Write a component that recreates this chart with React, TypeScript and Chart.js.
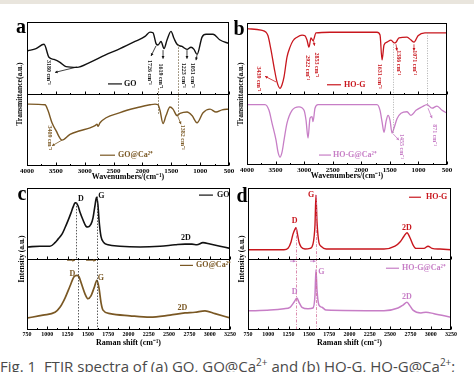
import React, { useEffect, useRef } from 'react';
import { Chart, registerables } from 'chart.js';
Chart.register(...registerables);

// ---------- FTIR data (wavenumber, cm-1 ; transmittance a.u.) ----------
const goWave = [3983, 3844, 3705, 3619, 3532, 3428, 3324, 3134, 2908, 2648, 2388, 2128, 1955, 1869, 1817, 1764, 1730, 1678, 1626, 1574, 1505, 1452, 1400, 1314, 1227, 1158, 1106, 1054, 967, 898, 777, 655, 500];
const goTrans = [60, 63, 69, 51, 48, 44, 38, 37, 44, 54, 63, 73, 80, 86, 85, 70, 68, 73, 63, 75, 87, 77, 69, 66, 62, 65, 62, 55, 79, 83, 83, 75, 70];

const goCaWave = [3983, 3688, 3636, 3567, 3497, 3393, 3255, 3082, 2908, 2821, 2786, 2769, 2735, 2388, 2042, 1869, 1782, 1730, 1695, 1643, 1591, 1522, 1470, 1400, 1348, 1227, 1141, 1054, 950, 829, 725, 620, 500];
const goCaTrans = [86, 85, 77, 60, 49, 36, 44, 49, 53, 56, 58, 55, 60, 74, 82, 85, 86, 85, 77, 59, 70, 82, 79, 70, 73, 75, 70, 60, 74, 79, 75, 78, 79];

const hogWave = [4000, 3755, 3667, 3632, 3580, 3527, 3475, 3422, 3387, 3352, 3300, 3247, 3195, 3125, 3037, 2985, 2950, 2915, 2880, 2845, 2792, 2547, 1725, 1672, 1637, 1602, 1550, 1480, 1427, 1392, 1340, 1200, 1130, 1077, 1007, 885, 500];
const hogTrans = [92, 90, 87, 82, 62, 38, 17, 8, 13, 24, 52, 66, 75, 80, 83, 82, 76, 66, 79, 75, 86, 87, 87, 83, 48, 69, 73, 76, 72, 73, 79, 80, 76, 73, 82, 86, 86];

const hogCaWave = [4000, 3685, 3615, 3562, 3492, 3457, 3422, 3387, 3352, 3300, 3212, 3090, 3002, 2967, 2932, 2897, 2862, 2845, 2810, 2757, 1725, 1672, 1637, 1602, 1567, 1532, 1497, 1462, 1427, 1375, 1305, 1200, 1130, 1042, 937, 850, 762, 675, 587, 500];
const hogCaTrans = [85, 85, 77, 59, 35, 18, 11, 18, 35, 59, 77, 82, 77, 63, 38, 66, 68, 61, 80, 85, 85, 77, 61, 46, 61, 70, 63, 45, 52, 65, 73, 75, 70, 77, 82, 85, 80, 83, 77, 73];

// ---------- Raman data (Raman shift, cm-1 ; intensity a.u.) ----------
const ramanGoShift = [762, 910, 1033, 1095, 1132, 1181, 1218, 1255, 1292, 1317, 1342, 1353, 1378, 1403, 1440, 1477, 1501, 1538, 1563, 1587, 1606, 1624, 1637, 1661, 1698, 1748, 1895, 2142, 2388, 2573, 2696, 2782, 2843, 2917, 3004, 3127, 3250];
const ramanGoInt = [17, 18, 18, 23, 28, 35, 44, 54, 65, 73, 79, 79, 75, 66, 55, 46, 45, 49, 58, 75, 87, 76, 55, 32, 23, 20, 18, 17, 18, 20, 21, 21, 20, 23, 21, 18, 15];

const ramanGoCaShift = [762, 947, 1095, 1156, 1218, 1280, 1329, 1366, 1390, 1427, 1464, 1501, 1538, 1575, 1612, 1637, 1661, 1686, 1772, 2018, 2265, 2511, 2696, 2819, 2942, 3065, 3250];
const ramanGoCaInt = [17, 21, 25, 32, 45, 62, 75, 77, 75, 63, 51, 44, 48, 59, 70, 59, 39, 28, 23, 20, 18, 21, 24, 25, 27, 23, 17];

const ramanHogShift = [750, 1021, 1193, 1243, 1280, 1304, 1329, 1341, 1353, 1378, 1403, 1452, 1514, 1550, 1575, 1587, 1600, 1624, 1649, 1711, 2425, 2560, 2622, 2671, 2708, 2745, 2782, 2819, 2917, 2967, 3016, 3114, 3250];
const ramanHogInt = [13, 13, 13, 15, 24, 35, 42, 44, 39, 24, 17, 14, 15, 21, 48, 90, 52, 23, 18, 14, 14, 18, 24, 32, 37, 30, 20, 15, 15, 18, 15, 14, 13];

const ramanHogCaShift = [750, 1021, 1193, 1267, 1316, 1353, 1378, 1415, 1489, 1550, 1575, 1587, 1600, 1624, 1661, 1711, 2425, 2597, 2659, 2708, 2745, 2782, 2880, 2942, 3041, 3250];
const ramanHogCaInt = [27, 28, 30, 32, 39, 45, 39, 32, 30, 31, 49, 85, 56, 35, 32, 28, 27, 31, 35, 39, 34, 28, 24, 25, 23, 18];

// ---------- axis ticks ----------
const ftirRange = [500, 4000];
const ftirStep = 500;
const ramanRange = [750, 3250];
const ramanStep = 250;

const BLACK = '#111111';
const BROWN = '#7a5824';
const RED = '#c8161d';
const PINK = '#c77ec6';
const serif = '"Liberation Serif", "Times New Roman", serif';

type Txt = { x: number; y: number; text: string; color: string; rot?: boolean; size?: number };
type Arrow = { x1: number; y1: number; x2: number; y2: number; color: string };
type VLine = { x: number; y1: number; y2: number; color: string; dash: number[] };
type Leg = { x1: number; x2: number; y: number; tx: number; color: string; text: string };

const decorPlugin = {
  id: 'decor',
  afterDatasetsDraw(chart: any, _a: any, o: any) {
    const { ctx, chartArea: ca, scales } = chart;
    const xs = scales.x;
    const ys = scales.y;
    const px = (v: number) => xs.getPixelForValue(v);
    const py = (v: number) => ys.getPixelForValue(v);
    ctx.save();
    for (const l of o.vlines as VLine[]) {
      ctx.strokeStyle = l.color;
      ctx.lineWidth = 0.8;
      ctx.setLineDash(l.dash);
      ctx.beginPath();
      ctx.moveTo(Math.round(px(l.x)) + 0.5, py(l.y1));
      ctx.lineTo(Math.round(px(l.x)) + 0.5, py(l.y2));
      ctx.stroke();
    }
    ctx.setLineDash([]);
    ctx.strokeStyle = '#000';
    ctx.lineWidth = 1;
    const L = Math.round(ca.left) + 0.5, T = Math.round(ca.top) + 0.5;
    const R = Math.round(ca.right) - 0.5, B = Math.round(ca.bottom) - 0.5;
    ctx.strokeRect(L, T, R - L, B - T);
    const mid = Math.round(py(100)) + 0.5;
    ctx.beginPath();
    ctx.moveTo(L, mid);
    ctx.lineTo(R, mid);
    ctx.stroke();
    ctx.beginPath();
    const minor = o.step / 2;
    for (let t = xs.min, k = 0; t <= xs.max + 1e-6; t += minor, k++) {
      const len = k % 2 === 0 ? 3 : 1.5;
      const X = Math.round(px(t)) + 0.5;
      ctx.moveTo(X, B);
      ctx.lineTo(X, B - len);
      ctx.moveTo(X, mid);
      ctx.lineTo(X, mid - len);
    }
    ctx.stroke();
    for (const a of o.arrows as Arrow[]) {
      const x1 = px(a.x1), y1 = py(a.y1), x2 = px(a.x2), y2 = py(a.y2);
      ctx.strokeStyle = a.color;
      ctx.fillStyle = a.color;
      ctx.lineWidth = 0.8;
      ctx.beginPath();
      ctx.moveTo(x1, y1);
      ctx.lineTo(x2, y2);
      ctx.stroke();
      const ang = Math.atan2(y2 - y1, x2 - x1);
      const h = 3;
      ctx.beginPath();
      ctx.moveTo(x2, y2);
      ctx.lineTo(x2 - h * Math.cos(ang - 0.5), y2 - h * Math.sin(ang - 0.5));
      ctx.lineTo(x2 - h * Math.cos(ang + 0.5), y2 - h * Math.sin(ang + 0.5));
      ctx.closePath();
      ctx.fill();
    }
    for (const t of o.texts as Txt[]) {
      ctx.save();
      ctx.translate(px(t.x), py(t.y));
      if (t.rot) ctx.rotate(Math.PI / 2);
      ctx.font = `bold ${t.size ?? 6}px ${serif}`;
      ctx.fillStyle = t.color;
      ctx.textAlign = 'center';
      ctx.textBaseline = 'middle';
      ctx.fillText(t.text, 0, 0);
      ctx.restore();
    }
    for (const l of o.legends as Leg[]) {
      ctx.strokeStyle = l.color;
      ctx.lineWidth = 1.2;
      ctx.beginPath();
      ctx.moveTo(px(l.x1), py(l.y));
      ctx.lineTo(px(l.x2), py(l.y));
      ctx.stroke();
      ctx.font = `bold 8px ${serif}`;
      ctx.fillStyle = l.color;
      ctx.textAlign = 'left';
      ctx.textBaseline = 'middle';
      ctx.fillText(l.text, px(l.tx), py(l.y));
    }
    ctx.fillStyle = '#000';
    ctx.font = `bold 20px ${serif}`;
    ctx.textAlign = 'center';
    ctx.textBaseline = 'alphabetic';
    ctx.fillText(o.letter, ca.left - o.letterDx, ca.top + o.letterDy);
    ctx.save();
    ctx.translate(ca.left - o.yTitleDx, (ca.top + ca.bottom) / 2);
    ctx.rotate(-Math.PI / 2);
    ctx.font = `bold 7.5px ${serif}`;
    ctx.textAlign = 'center';
    ctx.textBaseline = 'middle';
    ctx.fillText(o.yTitle, 0, 0);
    ctx.restore();
    ctx.restore();
  },
};

type Series = { xs: number[]; ys: number[]; offset: number; color: string; width: number };
type PanelSpec = {
  left: number; top: number; width: number; height: number;
  padding: { left: number; top: number; right: number; bottom: number };
  xh: number; range: number[]; step: number; reverse: boolean; tickSize: number; xTitle: string;
  series: Series[];
  decor: any;
};

function makeConfig(p: PanelSpec): any {
  return {
    type: 'line',
    data: {
      datasets: p.series.map((s) => ({
        data: s.xs.map((x, i) => ({ x, y: s.ys[i] + s.offset })),
        borderColor: s.color,
        borderWidth: s.width,
        pointRadius: 0,
        cubicInterpolationMode: 'monotone',
        fill: false,
      })),
    },
    options: {
      responsive: false,
      animation: false,
      events: [],
      layout: { padding: p.padding },
      plugins: { legend: { display: false }, tooltip: { enabled: false }, decor: p.decor },
      scales: {
        x: {
          type: 'linear',
          min: p.range[0],
          max: p.range[1],
          reverse: p.reverse,
          afterFit: (s: any) => { s.height = p.xh; },
          ticks: {
            stepSize: p.step, autoSkip: false, maxRotation: 0, padding: 1, color: '#000',
            font: { family: serif, size: p.tickSize, weight: 'bold' },
            callback: (v: any) => String(v),
          },
          grid: { display: false, drawTicks: false },
          border: { display: false },
          title: { display: true, text: p.xTitle, color: '#000', font: { family: serif, size: 8, weight: 'bold' }, padding: 0 },
        },
        y: { display: false, min: 0, max: 200 },
      },
    },
    plugins: [decorPlugin],
  };
}

const panels: PanelSpec[] = [
  {
    left: 0, top: 0, width: 236, height: 182,
    padding: { left: 27, top: 22, right: 7, bottom: 0 }, xh: 16,
    range: ftirRange, step: ftirStep, reverse: true, tickSize: 7, xTitle: 'Wavenumbers/(cm⁻¹)',
    series: [
      { xs: goWave, ys: goTrans, offset: 100, color: BLACK, width: 1.4 },
      { xs: goCaWave, ys: goCaTrans, offset: 0, color: BROWN, width: 1.4 },
    ],
    decor: {
      letter: 'a', letterDx: 6, letterDy: 11, yTitle: 'Transmittance(a.u.)', yTitleDx: 7, step: ftirStep,
      vlines: [
        { x: 1730, y1: 108, y2: 71, color: '#6b5a3a', dash: [1.5, 1.5] },
        { x: 1383, y1: 169, y2: 69, color: '#6b5a3a', dash: [1.5, 1.5] },
      ],
      arrows: [
        { x1: 3134, y1: 137.5, x2: 3515, y2: 130, color: BLACK },
        { x1: 1765, y1: 166.7, x2: 1851, y2: 152.8, color: BLACK },
        { x1: 1643, y1: 161, x2: 1643, y2: 149, color: BLACK },
        { x1: 1228, y1: 161, x2: 1228, y2: 149, color: BLACK },
        { x1: 1054, y1: 154, x2: 1072, y2: 147, color: BLACK },
        { x1: 3393, y1: 36, x2: 3567, y2: 28, color: BROWN },
        { x1: 1401, y1: 72, x2: 1332, y2: 58, color: BROWN },
      ],
      texts: [
        { x: 3619, y: 130, text: '3180 cm⁻¹', color: BLACK, rot: true },
        { x: 1869, y: 130, text: '1726 cm⁻¹', color: BLACK, rot: true },
        { x: 1678, y: 125, text: '1619 cm⁻¹', color: BLACK, rot: true },
        { x: 1280, y: 126, text: '1223 cm⁻¹', color: BLACK, rot: true },
        { x: 1132, y: 126, text: '1051 cm⁻¹', color: BLACK, rot: true },
        { x: 3601, y: 39, text: '3409 cm⁻¹', color: BROWN, rot: true },
        { x: 1306, y: 40, text: '1382 cm⁻¹', color: BROWN, rot: true },
      ],
      legends: [
        { x1: 2597, x2: 2354, y: 114, tx: 2319, color: BLACK, text: 'GO' },
        { x1: 2735, x2: 2475, y: 15, tx: 2423, color: BROWN, text: 'GO@Ca²⁺' },
      ],
    },
  },
  {
    left: 234, top: 0, width: 221, height: 181,
    padding: { left: 13, top: 23, right: 8, bottom: 0 }, xh: 16,
    range: ftirRange, step: ftirStep, reverse: true, tickSize: 7, xTitle: 'Wavenumbers/(cm⁻¹)',
    series: [
      { xs: hogWave, ys: hogTrans, offset: 100, color: RED, width: 1.3 },
      { xs: hogCaWave, ys: hogCaTrans, offset: 0, color: PINK, width: 1.3 },
    ],
    decor: {
      letter: 'b', letterDx: 8, letterDy: 12, yTitle: 'Transmittance(a.u.)', yTitleDx: 6, step: ftirStep,
      vlines: [
        { x: 1445, y1: 170, y2: 44, color: '#9a9a9a', dash: [1, 1.5] },
        { x: 850, y1: 186, y2: 83, color: '#9a9a9a', dash: [1, 1.5] },
      ],
      arrows: [
        { x1: 3492, y1: 117, x2: 3685, y2: 125, color: RED },
        { x1: 2836, y1: 176, x2: 2819, y2: 168, color: RED },
        { x1: 1393, y1: 170, x2: 1375, y2: 161, color: RED },
        { x1: 1078, y1: 170, x2: 1078, y2: 161, color: RED },
        { x1: 1445, y1: 44, x2: 1340, y2: 35, color: PINK },
        { x1: 832, y1: 80, x2: 762, y2: 66, color: PINK },
      ],
      texts: [
        { x: 3799, y: 121, text: '3439 cm⁻¹', color: RED, rot: true },
        { x: 2932, y: 137, text: '2922 cm⁻¹', color: RED, rot: true },
        { x: 2784, y: 141, text: '2853 cm⁻¹', color: RED, rot: true },
        { x: 1681, y: 125, text: '1631 cm⁻¹', color: RED, rot: true },
        { x: 1349, y: 144, text: '1386 cm⁻¹', color: RED, rot: true },
        { x: 1069, y: 144, text: '1071 cm⁻¹', color: RED, rot: true },
        { x: 1296, y: 26, text: '1455 cm⁻¹', color: PINK, rot: true },
        { x: 719, y: 42, text: '871 cm⁻¹', color: PINK, rot: true },
      ],
      legends: [
        { x1: 2600, x2: 2355, y: 113, tx: 2302, color: RED, text: 'HO-G' },
        { x1: 2740, x2: 2530, y: 14, tx: 2495, color: PINK, text: 'HO-G@Ca²⁺' },
      ],
    },
  },
  {
    left: 0, top: 182, width: 238, height: 166,
    padding: { left: 27, top: 6, right: 8, bottom: 0 }, xh: 18,
    range: ramanRange, step: ramanStep, reverse: false, tickSize: 6, xTitle: 'Raman shift (cm⁻¹)',
    series: [
      { xs: ramanGoShift, ys: ramanGoInt, offset: 100, color: BLACK, width: 1.6 },
      { xs: ramanGoCaShift, ys: ramanGoCaInt, offset: 0, color: BROWN, width: 1.7 },
    ],
    decor: {
      letter: 'c', letterDx: 5, letterDy: 12, yTitle: 'Intensity (a.u.)', yTitleDx: 5, step: ramanStep,
      vlines: [
        { x: 1353, y1: 179, y2: 100, color: '#333', dash: [1.5, 1.5] },
        { x: 1378, y1: 100, y2: 0, color: '#333', dash: [1.5, 1.5] },
        { x: 1606, y1: 188, y2: 0, color: '#333', dash: [1.5, 1.5] },
      ],
      arrows: [
        { x1: 1243, y1: 98, x2: 1341, y2: 98, color: BROWN },
        { x1: 1477, y1: 98, x2: 1600, y2: 98, color: BROWN },
      ],
      texts: [
        { x: 1415, y: 185, text: 'D', color: BLACK, size: 8 },
        { x: 1667, y: 189, text: 'G', color: BLACK, size: 8 },
        { x: 2708, y: 130, text: '2D', color: BLACK, size: 8 },
        { x: 1310, y: 79, text: 'D', color: BROWN, size: 8 },
        { x: 1661, y: 74, text: 'G', color: BROWN, size: 8 },
        { x: 2665, y: 31, text: '2D', color: BROWN, size: 8 },
      ],
      legends: [
        { x1: 2868, x2: 3040, y: 190, tx: 3090, color: BLACK, text: 'GO' },
        { x1: 2634, x2: 2794, y: 91, tx: 2831, color: BROWN, text: 'GO@Ca²⁺' },
      ],
    },
  },
  {
    left: 234, top: 182, width: 224, height: 166,
    padding: { left: 14, top: 6, right: 7, bottom: 0 }, xh: 18,
    range: ramanRange, step: ramanStep, reverse: false, tickSize: 6, xTitle: 'Raman shift (cm⁻¹)',
    series: [
      { xs: ramanHogShift, ys: ramanHogInt, offset: 100, color: RED, width: 1.4 },
      { xs: ramanHogCaShift, ys: ramanHogCaInt, offset: 0, color: PINK, width: 1.5 },
    ],
    decor: {
      letter: 'd', letterDx: 6, letterDy: 14, yTitle: 'Intensity (a.u.)', yTitleDx: 6, step: ramanStep,
      vlines: [
        { x: 1341, y1: 143, y2: 0, color: '#d2709a', dash: [3, 1.5, 1, 1.5] },
        { x: 1587, y1: 190, y2: 0, color: '#d2709a', dash: [3, 1.5, 1, 1.5] },
      ],
      arrows: [
        { x1: 1267, y1: 97, x2: 1335, y2: 97, color: PINK },
        { x1: 1514, y1: 97, x2: 1582, y2: 97, color: PINK },
      ],
      texts: [
        { x: 1323, y: 153, text: 'D', color: RED, size: 8 },
        { x: 1526, y: 190, text: 'G', color: RED, size: 8 },
        { x: 2708, y: 144, text: '2D', color: RED, size: 8 },
        { x: 1655, y: 82, text: 'G', color: PINK, size: 8 },
        { x: 1323, y: 53, text: 'D', color: PINK, size: 8 },
        { x: 2708, y: 47, text: '2D', color: PINK, size: 8 },
      ],
      legends: [
        { x1: 2733, x2: 2880, y: 187, tx: 2942, color: RED, text: 'HO-G' },
        { x1: 2449, x2: 2610, y: 87, tx: 2647, color: PINK, text: 'HO-G@Ca²⁺' },
      ],
    },
  },
];

function Panel({ spec }: { spec: PanelSpec }) {
  const ref = useRef<HTMLCanvasElement>(null);
  useEffect(() => {
    const chart = new Chart(ref.current as HTMLCanvasElement, makeConfig(spec));
    return () => chart.destroy();
  }, [spec]);
  return (
    <canvas
      ref={ref}
      width={spec.width}
      height={spec.height}
      style={{ position: 'absolute', left: spec.left, top: spec.top, width: spec.width, height: spec.height }}
    />
  );
}

const supStyle = { fontSize: 10, lineHeight: 0 };

export default function App() {
  return (
    <div style={{ position: 'fixed', left: 0, top: 0, width: 474, height: 372, overflow: 'hidden', background: '#fff' }}>
      <div style={{ position: 'absolute', left: 0, top: 0, width: 474, height: 4, background: '#e9e5dd' }} />
      {panels.map((p, i) => (
        <Panel key={i} spec={p} />
      ))}
      <div
        style={{
          position: 'absolute', left: 0, top: 359, fontFamily: '"Open Sans", "Liberation Sans", sans-serif',
          fontSize: 15, lineHeight: '15px', color: '#4a4a4a', whiteSpace: 'nowrap',
        }}
      >
        Fig. 1&nbsp;&nbsp;FTIR spectra of (a) GO, GO@Ca<sup style={supStyle}>2+</sup> and (b) HO-G, HO-G@Ca<sup style={supStyle}>2+</sup>;
      </div>
    </div>
  );
}
